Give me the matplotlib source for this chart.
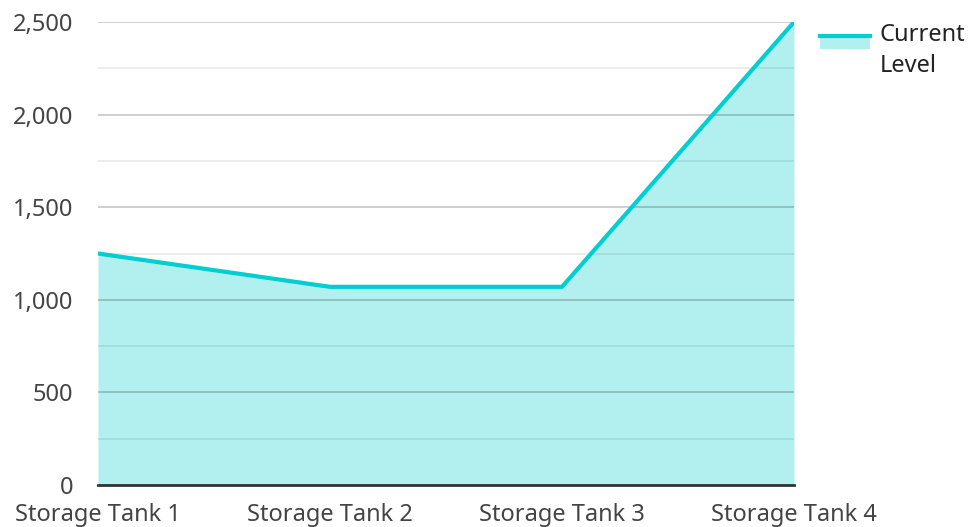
import matplotlib.pyplot as plt
from matplotlib.lines import Line2D
from matplotlib.patches import Rectangle
from matplotlib.ticker import MultipleLocator, FuncFormatter

plt.rcParams['font.family'] = ['Noto Sans', 'DejaVu Sans']

tanks = ["Storage Tank 1", "Storage Tank 2", "Storage Tank 3", "Storage Tank 4"]
current_level = [1250, 1070, 1070, 2500]

line_color = "#00CED1"
fill_color = "#B2EFEF"


class AreaHandler:
    # line on top, fill swatch under it, lined up with the first text line
    def legend_artist(self, legend, orig_handle, fontsize, handlebox):
        x0, y0 = handlebox.xdescent, handlebox.ydescent
        w, h = handlebox.width, handlebox.height
        tr = handlebox.get_transform()
        mid = y0 + h / 2 + 10.8  # points above the box centre
        rect = Rectangle((x0, mid - 9.0), w, 8.0, facecolor=fill_color,
                         edgecolor="none", transform=tr)
        ln = Line2D([x0, x0 + w], [mid, mid], color=line_color,
                    linewidth=3, transform=tr)
        handlebox.add_artist(rect)
        handlebox.add_artist(ln)
        return ln


fig = plt.figure(figsize=(9.70, 5.27), dpi=100)
ax = fig.add_axes([98 / 970, 42 / 527, 696 / 970, 463 / 527])

x = list(range(len(tanks)))
ax.fill_between(x, current_level, 0, color=fill_color, linewidth=0, zorder=1)
ax.plot(x, current_level, color=line_color, linewidth=3, zorder=3)

ax.set_xlim(0, len(tanks) - 1)
ax.set_ylim(0, 2500)
ax.yaxis.set_major_locator(MultipleLocator(500))
ax.yaxis.set_minor_locator(MultipleLocator(250))
ax.yaxis.set_major_formatter(FuncFormatter(lambda v, p: f"{int(v):,}"))
ax.grid(axis="y", which="major", color="black", alpha=0.22, linewidth=1.2, zorder=2)
ax.grid(axis="y", which="minor", color="black", alpha=0.09, linewidth=1.2, zorder=2)
ax.set_axisbelow(False)

ax.set_xticks(x)
ax.set_xticklabels(tanks)
for s in ["top", "right", "left"]:
    ax.spines[s].set_visible(False)
ax.spines["bottom"].set_color("#333333")
ax.spines["bottom"].set_linewidth(2)
ax.spines["bottom"].set_zorder(4)
ax.tick_params(axis="both", which="both", length=0, labelsize=17, colors="#444444")
ax.tick_params(axis="y", pad=18)
ax.tick_params(axis="x", pad=13)

leg = fig.legend(["series"], ["Current\nLevel"], handler_map={str: AreaHandler()},
                 loc="upper left", bbox_to_anchor=(799 / 970, 1 - 2 / 527), frameon=False,
                 fontsize=17, labelcolor="#222222", handlelength=2.1, handleheight=0.7,
                 handletextpad=0.4)
leg.get_texts()[0].set_linespacing(1.35)

fig.savefig("out.png", dpi=100)
